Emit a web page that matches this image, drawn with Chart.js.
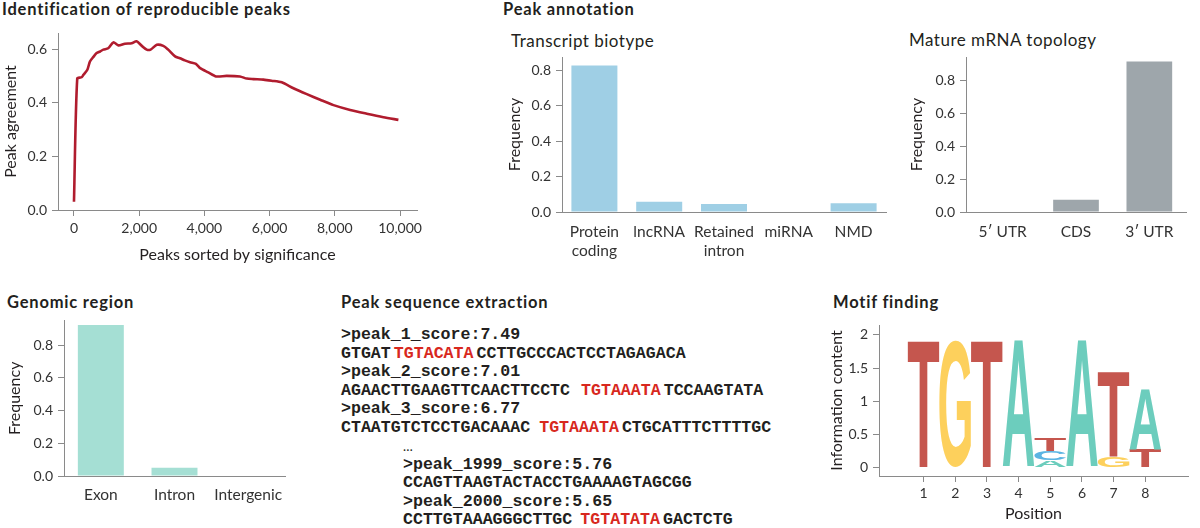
<!DOCTYPE html>
<html><head><meta charset="utf-8">
<script src="https://cdn.jsdelivr.net/npm/chart.js@4.4.0/dist/chart.umd.min.js"></script>
<style>
html,body{margin:0;padding:0;background:#fff;}
body{width:1200px;height:528px;position:relative;overflow:hidden;font-family:Lato,"Open Sans",sans-serif;color:#231f20;}
canvas{position:absolute;}
.t{position:absolute;font-size:16.5px;font-weight:700;letter-spacing:0.8px;line-height:19px;white-space:nowrap;}
.st{position:absolute;font-size:17px;font-weight:400;letter-spacing:0.5px;line-height:19px;white-space:nowrap;}
.seq{position:absolute;left:341px;top:326px;font-family:"Liberation Mono","Courier New",monospace;font-weight:700;font-size:16.6px;}
.seq div{height:18.5px;line-height:18.5px;white-space:pre;}
.seq .ind{padding-left:62px;}
.red{color:#d8281e;}
.seq .dots{font-family:Lato,sans-serif;font-weight:400;font-size:13px;}
</style>
</head><body>
<div class="t" style="left:2px;top:0px;">Identification of reproducible peaks</div>
<div class="t" style="left:503px;top:0px;">Peak annotation</div>
<div class="st" style="left:511px;top:31px;">Transcript biotype</div>
<div class="st" style="left:909px;top:30px;">Mature mRNA topology</div>
<div class="t" style="left:7px;top:293px;">Genomic region</div>
<div class="t" style="left:341px;top:293px;">Peak sequence extraction</div>
<div class="t" style="left:833px;top:293px;">Motif finding</div>

<div class="seq"><div>&gt;peak_1_score:7.49</div><div>GTGAT<span class="red" style="margin-left:3px">TGTACATA</span><span style="margin-left:3px">CCTTGCCCACTCCTAGAGACA</span></div><div>&gt;peak_2_score:7.01</div><div>AGAACTTGAAGTTCAACTTCCTC<span class="red" style="margin-left:11px">TGTAAATA</span><span style="margin-left:3px">TCCAAGTATA</span></div><div>&gt;peak_3_score:6.77</div><div>CTAATGTCTCCTGACAAAC<span class="red" style="margin-left:9px">TGTAAATA</span><span style="margin-left:3px">CTGCATTTCTTTTGC</span></div><div class="ind dots">…</div><div class="ind">&gt;peak_1999_score:5.76</div><div class="ind">CCAGTTAAGTACTACCTGAAAAGTAGCGG</div><div class="ind">&gt;peak_2000_score:5.65</div><div class="ind">CCTTGTAAAGGGCTTGC<span class="red" style="margin-left:8px">TGTATATA</span><span style="margin-left:3px">GACTCTG</span></div></div>

<canvas id="c1" width="440" height="270" style="left:0px;top:0px;width:440px;height:270px;"></canvas>
<canvas id="c2" width="400" height="270" style="left:490px;top:0px;width:400px;height:270px;"></canvas>
<canvas id="c3" width="305" height="270" style="left:895px;top:0px;width:305px;height:270px;"></canvas>
<canvas id="c4" width="300" height="248" style="left:0px;top:280px;width:300px;height:248px;"></canvas>
<canvas id="c5" width="400" height="248" style="left:800px;top:280px;width:400px;height:248px;"></canvas>

<script>
// ---------- DATA ----------
const peakRank = [0, 100, 235, 290, 410, 490, 590, 695, 800, 900, 1050, 1207, 1360, 1560, 1770, 1920, 2080, 2230, 2350, 2540, 2740, 2890, 3100, 3250, 3400, 3560, 3740, 3870, 4120, 4360, 4680, 5090, 5300, 5500, 5810, 6060, 6370, 6730, 7140, 7550, 7960, 8470, 8980, 9490, 9950];
const peakAgreement = [0.031, 0.490, 0.495, 0.504, 0.523, 0.554, 0.570, 0.585, 0.591, 0.598, 0.603, 0.625, 0.614, 0.620, 0.622, 0.629, 0.612, 0.598, 0.598, 0.616, 0.612, 0.598, 0.573, 0.566, 0.558, 0.551, 0.545, 0.529, 0.513, 0.498, 0.500, 0.498, 0.490, 0.488, 0.486, 0.482, 0.476, 0.454, 0.432, 0.411, 0.391, 0.373, 0.359, 0.346, 0.336];
const peakXTicks = [0, 2000, 4000, 6000, 8000, 10000];
const peakYTicks = [0, 0.2, 0.4, 0.6];

const biotypeLabels = [['Protein', 'coding'], 'lncRNA', ['Retained', 'intron'], 'miRNA', 'NMD'];
const biotypeFreq = [0.829, 0.058, 0.045, 0, 0.049];
const freqTicks = [0, 0.2, 0.4, 0.6, 0.8];

const topologyLabels = ['5\u2032 UTR', 'CDS', '3\u2032 UTR'];
const topologyFreq = [0, 0.075, 0.916];

const regionLabels = ['Exon', 'Intron', 'Intergenic'];
const regionFreq = [0.922, 0.051, 0];

const motifPositions = [1, 2, 3, 4, 5, 6, 7, 8];
const motifTicks = [0, 0.5, 1, 1.5, 2];
const layer1Letters = ['T', 'G', 'T', 'A', 'A', 'A', 'G', 'T'];
const layer1Bits = [1.92, 1.92, 1.92, 1.92, 0.11, 1.92, 0.16, 0.27];
const layer2Letters = ['', '', '', '', 'C', '', 'T', 'A'];
const layer2Bits = [0, 0, 0, 0, 0.14, 0, 1.29, 0.91];
const layer3Letters = ['', '', '', '', 'T', '', '', ''];
const layer3Bits = [0, 0, 0, 0, 0.19, 0, 0, 0];

// ---------- STYLE ----------
const axisColor = '#8a8a8a';
const tickColor = '#333333';
const titleColor = '#231f20';
const letterColors = { T: '#c5564e', G: '#fdd05c', A: '#6ccdbd', C: '#5cb4e2' };

Chart.defaults.font.family = 'Lato, "Open Sans", sans-serif';
Chart.defaults.color = tickColor;
Chart.defaults.animation = false;
Chart.defaults.responsive = false;
Chart.defaults.plugins.legend.display = false;
Chart.defaults.plugins.tooltip.enabled = false;

function zeroPad(s) { s.paddingLeft = 0; s.paddingRight = 0; s.paddingTop = 0; s.paddingBottom = 0; }

function yAxis(o) {
  return {
    type: 'linear', min: o.min, max: o.max,
    afterBuildTicks: s => { s.ticks = o.ticks.map(v => ({ value: v })); },
    ticks: { callback: o.fmt, padding: 5, color: tickColor, font: { size: 14 }, autoSkip: false },
    grid: { display: true, drawOnChartArea: false, drawTicks: true, tickLength: 6, color: axisColor, lineWidth: 1 },
    border: { display: true, color: axisColor, width: 1 },
    title: { display: true, text: o.title, color: titleColor, font: { size: 16 }, padding: { top: o.titlePad, bottom: 0 } },
    afterFit: s => { s.width = o.width; zeroPad(s); }
  };
}
function catAxis(height, pad) {
  return {
    type: 'category', offset: true,
    grid: { display: false, drawTicks: false },
    border: { display: true, color: axisColor, width: 1 },
    ticks: { padding: pad, color: tickColor, font: { size: 15.5 }, maxRotation: 0, autoSkip: false },
    afterFit: s => { s.height = height; zeroPad(s); }
  };
}
const fmt1 = v => Number(v).toFixed(1);

// ---------- Chart 1: line ----------
new Chart(document.getElementById('c1'), {
  type: 'line',
  data: { datasets: [{ data: peakRank.map((x, i) => ({ x: x, y: peakAgreement[i] })), borderColor: '#b01c2e', borderWidth: 2.6, pointRadius: 0, tension: 0.25, fill: false }] },
  options: {
    layout: { padding: { top: 33, right: 23, left: 0, bottom: 0 } },
    scales: {
      x: {
        type: 'linear', min: -490, max: 10520,
        afterBuildTicks: s => { s.ticks = peakXTicks.map(v => ({ value: v })); },
        ticks: { callback: v => Number(v).toLocaleString('en-US'), padding: 4, color: tickColor, font: { size: 14 }, maxRotation: 0, autoSkip: false },
        grid: { display: true, drawOnChartArea: false, drawTicks: true, tickLength: 6, color: axisColor },
        border: { display: true, color: axisColor },
        title: { display: true, text: 'Peaks sorted by significance', color: titleColor, font: { size: 16 }, padding: { top: 0, bottom: 6 } },
        afterFit: s => { s.height = 60; zeroPad(s); }
      },
      y: yAxis({ min: 0, max: 0.66, ticks: peakYTicks, fmt: fmt1, width: 58, title: 'Peak agreement', titlePad: 1 })
    }
  }
});

// ---------- Chart 2: transcript biotype ----------
new Chart(document.getElementById('c2'), {
  type: 'bar',
  data: { labels: biotypeLabels, datasets: [{ data: biotypeFreq, backgroundColor: '#9fcfe5', borderWidth: 0, barPercentage: 0.71, categoryPercentage: 1 }] },
  options: {
    layout: { padding: { top: 57, right: 4, left: 0, bottom: 0 } },
    scales: { x: catAxis(58, 11), y: yAxis({ min: 0, max: 0.877, ticks: freqTicks, fmt: fmt1, width: 72, title: 'Frequency', titlePad: 15 }) }
  }
});

// ---------- Chart 3: mRNA topology ----------
new Chart(document.getElementById('c3'), {
  type: 'bar',
  data: { labels: topologyLabels, datasets: [{ data: topologyFreq, backgroundColor: '#9ea6ab', borderWidth: 0, barPercentage: 0.623, categoryPercentage: 1 }] },
  options: {
    layout: { padding: { top: 57, right: 14, left: 0, bottom: 0 } },
    scales: { x: catAxis(58, 11), y: yAxis({ min: 0, max: 0.944, ticks: freqTicks, fmt: fmt1, width: 71, title: 'Frequency', titlePad: 12 }) }
  }
});

// ---------- Chart 4: genomic region ----------
new Chart(document.getElementById('c4'), {
  type: 'bar',
  data: { labels: regionLabels, datasets: [{ data: regionFreq, backgroundColor: '#a5dfd4', borderWidth: 0, barPercentage: 0.624, categoryPercentage: 1 }] },
  options: {
    layout: { padding: { top: 40.7, right: 15, left: 0, bottom: 0 } },
    scales: { x: catAxis(52, 10), y: yAxis({ min: 0, max: 0.949, ticks: freqTicks, fmt: fmt1, width: 64, title: 'Frequency', titlePad: 5 }) }
  }
});

// ---------- Chart 5: motif logo ----------
const logoPlugin = {
  id: 'logo',
  afterDatasetsDraw(chart) {
    const ctx = chart.ctx;
    chart.data.datasets.forEach((ds, di) => {
      const meta = chart.getDatasetMeta(di);
      meta.data.forEach((bar, i) => {
        const letter = ds.letters[i];
        if (!letter) return;
        const top = Math.min(bar.y, bar.base), bottom = Math.max(bar.y, bar.base);
        const h = bottom - top;
        if (h < 0.5) return;
        const w = bar.width, left = bar.x - w / 2;
        ctx.save();
        ctx.font = 'bold 200px "Liberation Sans", Arial, sans-serif';
        ctx.textAlign = 'left';
        ctx.textBaseline = 'alphabetic';
        const m = ctx.measureText(letter);
        const gw = m.actualBoundingBoxLeft + m.actualBoundingBoxRight;
        const gh = m.actualBoundingBoxAscent + m.actualBoundingBoxDescent;
        ctx.translate(left, top);
        ctx.scale(w / gw, h / gh);
        ctx.fillStyle = letterColors[letter];
        ctx.fillText(letter, m.actualBoundingBoxLeft, m.actualBoundingBoxAscent);
        ctx.restore();
      });
    });
  }
};
function layer(bits, letters) {
  return { data: motifPositions.map((p, i) => ({ x: p, y: bits[i] })), letters: letters, backgroundColor: 'rgba(0,0,0,0)', borderWidth: 0, barPercentage: 1, categoryPercentage: 1 };
}
new Chart(document.getElementById('c5'), {
  type: 'bar',
  data: { datasets: [layer(layer1Bits, layer1Letters), layer(layer2Bits, layer2Letters), layer(layer3Bits, layer3Letters)] },
  plugins: [logoPlugin],
  options: {
    layout: { padding: { top: 45, right: 12, left: 0, bottom: 0 } },
    scales: {
      x: {
        type: 'linear', min: -0.41, max: 9.35, stacked: true, offset: false,
        afterBuildTicks: s => { s.ticks = motifPositions.map(v => ({ value: v })); },
        ticks: { callback: v => String(v), padding: 3, color: tickColor, font: { size: 14 }, maxRotation: 0, autoSkip: false },
        grid: { display: true, offset: false, drawOnChartArea: false, drawTicks: true, tickLength: 6, color: axisColor },
        border: { display: true, color: axisColor },
        title: { display: true, text: 'Position', color: titleColor, font: { size: 16 }, padding: { top: 0, bottom: 5 } },
        afterFit: s => { s.height = 52; zeroPad(s); }
      },
      y: Object.assign(yAxis({ min: -0.131, max: 2.15, ticks: motifTicks, fmt: v => String(v), width: 79, title: 'Information content', titlePad: 27 }), { stacked: true })
    }
  }
});
</script>
</body></html>
